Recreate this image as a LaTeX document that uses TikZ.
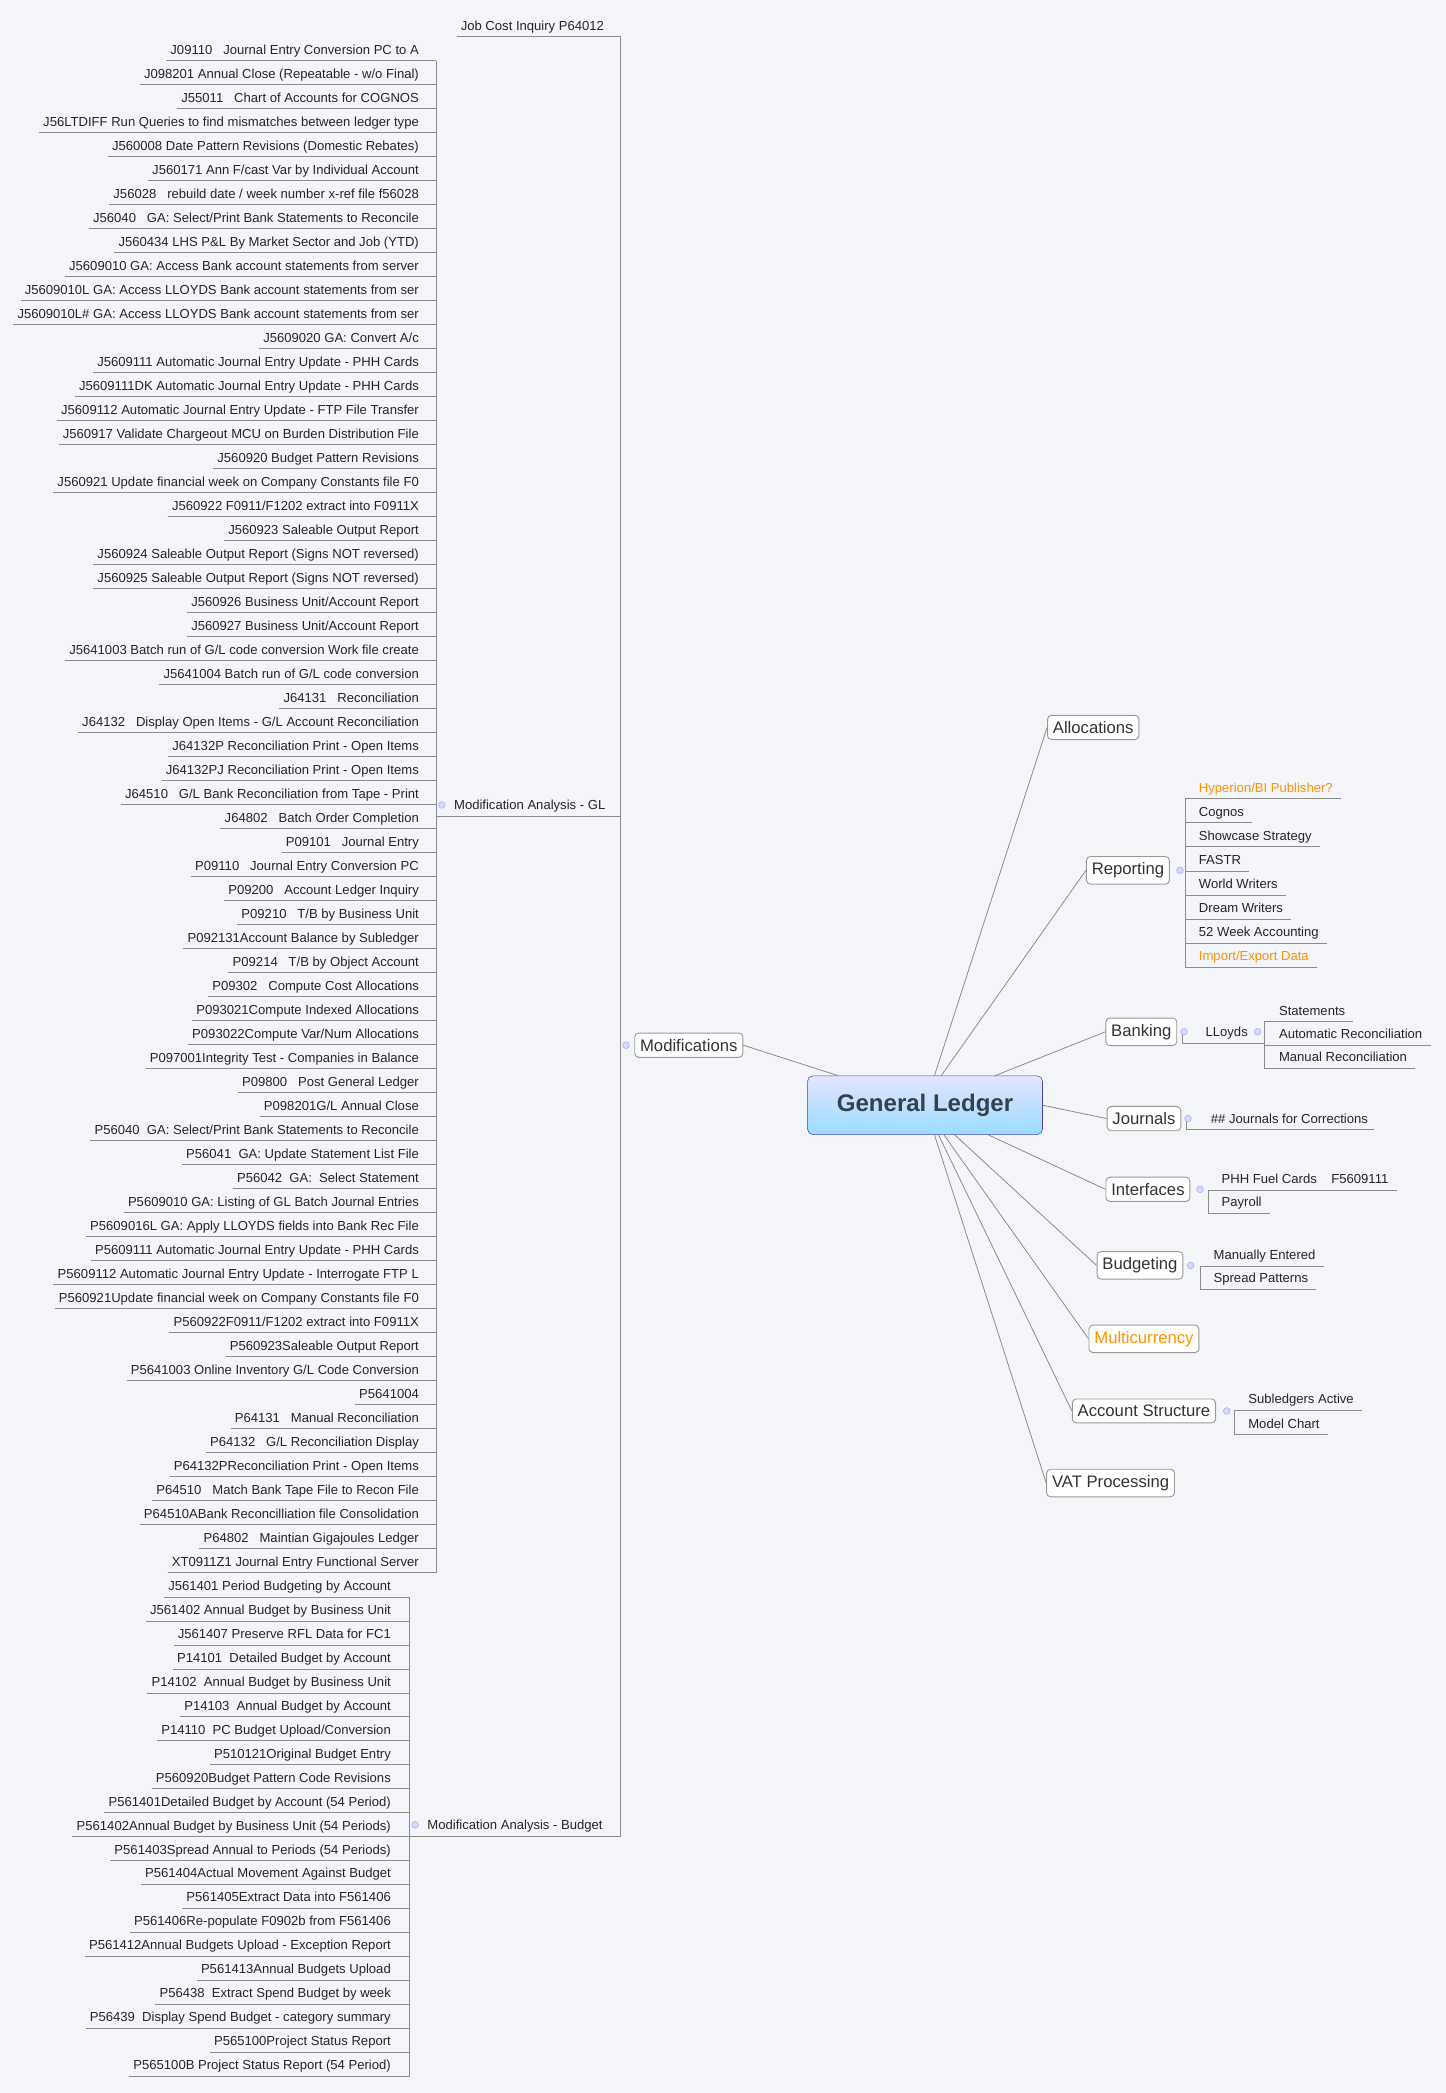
\documentclass[tikz,border=0pt]{standalone}
\usepackage{fontspec}
\setmainfont{Liberation Sans}
\begin{document}
\begin{tikzpicture}[x=1pt,y=1pt,
  ln/.style={draw=black!45,line width=0.7pt},
  cn/.style={draw=black!45,line width=0.6pt},
  lf/.style={inner sep=0pt,font=\fontsize{9.8}{11}\selectfont,text=black!85},
  topic/.style={draw=black!40,rounded corners=3pt,fill=white,line width=0.7pt,font=\fontsize{12.5}{14}\selectfont,text=black!80,inner xsep=4pt,inner ysep=4.5pt},
  dot/.style={circle,draw=blue!35,fill=blue!15,inner sep=0pt,minimum size=5pt},
  org/.style={text=orange!85!yellow}]
\fill[color={rgb,255:red,243;green,245;blue,249}] (0,0) rectangle (1083,-1568);
\useasboundingbox (0,0) rectangle (1083,-1568);
% ---- GL list
\coordinate (vgl) at (327,0);
\foreach \t [count=\i] in {
{J09110\ \ \ Journal Entry Conversion PC to A},
{J098201 Annual Close (Repeatable - w/o Final)},
{J55011\ \ \ Chart of Accounts for COGNOS},
{J56LTDIFF Run Queries to find mismatches between ledger type},
{J560008 Date Pattern Revisions (Domestic Rebates)},
{J560171 Ann F/cast Var by Individual Account},
{J56028\ \ \ rebuild date / week number x-ref file f56028},
{J56040\ \ \ GA: Select/Print Bank Statements to Reconcile},
{J560434 LHS P\&L By Market Sector and Job (YTD)},
{J5609010 GA: Access Bank account statements from server},
{J5609010L GA: Access LLOYDS Bank account statements from ser},
{J5609010L\# GA: Access LLOYDS Bank account statements from ser},
{J5609020 GA: Convert A/c},
{J5609111 Automatic Journal Entry Update - PHH Cards},
{J5609111DK Automatic Journal Entry Update - PHH Cards},
{J5609112 Automatic Journal Entry Update - FTP File Transfer},
{J560917 Validate Chargeout MCU on Burden Distribution File},
{J560920 Budget Pattern Revisions},
{J560921 Update financial week on Company Constants file F0},
{J560922 F0911/F1202 extract into F0911X},
{J560923 Saleable Output Report},
{J560924 Saleable Output Report (Signs NOT reversed)},
{J560925 Saleable Output Report (Signs NOT reversed)},
{J560926 Business Unit/Account Report},
{J560927 Business Unit/Account Report},
{J5641003 Batch run of G/L code conversion Work file create},
{J5641004 Batch run of G/L code conversion},
{J64131\ \ \ Reconciliation},
{J64132\ \ \ Display Open Items - G/L Account Reconciliation},
{J64132P Reconciliation Print - Open Items},
{J64132PJ Reconciliation Print - Open Items},
{J64510\ \ \ G/L Bank Reconciliation from Tape - Print},
{J64802\ \ \ Batch Order Completion},
{P09101\ \ \ Journal Entry},
{P09110\ \ \ Journal Entry Conversion PC},
{P09200\ \ \ Account Ledger Inquiry},
{P09210\ \ \ T/B by Business Unit},
{P092131Account Balance by Subledger},
{P09214\ \ \ T/B by Object Account},
{P09302\ \ \ Compute Cost Allocations},
{P093021Compute Indexed Allocations},
{P093022Compute Var/Num Allocations},
{P097001Integrity Test - Companies in Balance},
{P09800\ \ \ Post General Ledger},
{P098201G/L Annual Close},
{P56040\ \ GA: Select/Print Bank Statements to Reconcile},
{P56041\ \ GA: Update Statement List File},
{P56042\ \ GA:\ \ Select Statement},
{P5609010 GA: Listing of GL Batch Journal Entries},
{P5609016L GA: Apply LLOYDS fields into Bank Rec File},
{P5609111 Automatic Journal Entry Update - PHH Cards},
{P5609112 Automatic Journal Entry Update - Interrogate FTP L},
{P560921Update financial week on Company Constants file F0},
{P560922F0911/F1202 extract into F0911X},
{P560923Saleable Output Report},
{P5641003 Online Inventory G/L Code Conversion},
{P5641004},
{P64131\ \ \ Manual Reconciliation},
{P64132\ \ \ G/L Reconciliation Display},
{P64132PReconciliation Print - Open Items},
{P64510\ \ \ Match Bank Tape File to Recon File},
{P64510ABank Reconcilliation file Consolidation},
{P64802\ \ \ Maintian Gigajoules Ledger},
{XT0911Z1 Journal Entry Functional Server}}{
  \pgfmathsetmacro\yy{37+17.98*(\i-1)}
  \node[lf,anchor=base east] (g\i) at (314,-\yy-3.5) {\t};
  \coordinate (ug\i) at (0,-\yy-8.5);
  \draw[ln] ([xshift=-3pt]g\i.west |- ug\i) -- (vgl |- ug\i);
}
\draw[ln] (vgl |- ug1) -- (vgl |- ug64);
% ---- Budget list
\coordinate (vbu) at (307,0);
\foreach \t [count=\i] in {
{J561401 Period Budgeting by Account},
{J561402 Annual Budget by Business Unit},
{J561407 Preserve RFL Data for FC1},
{P14101\ \ Detailed Budget by Account},
{P14102\ \ Annual Budget by Business Unit},
{P14103\ \ Annual Budget by Account},
{P14110\ \ PC Budget Upload/Conversion},
{P510121Original Budget Entry},
{P560920Budget Pattern Code Revisions},
{P561401Detailed Budget by Account (54 Period)},
{P561402Annual Budget by Business Unit (54 Periods)},
{P561403Spread Annual to Periods (54 Periods)},
{P561404Actual Movement Against Budget},
{P561405Extract Data into F561406},
{P561406Re-populate F0902b from F561406},
{P561412Annual Budgets Upload - Exception Report},
{P561413Annual Budgets Upload},
{P56438\ \ Extract Spend Budget by week},
{P56439\ \ Display Spend Budget - category summary},
{P565100Project Status Report},
{P565100B Project Status Report (54 Period)}}{
  \pgfmathsetmacro\yy{1188+17.95*(\i-1)}
  \node[lf,anchor=base east] (b\i) at (293,-\yy-3.5) {\t};
  \coordinate (ub\i) at (0,-\yy-8.5);
  \draw[ln] ([xshift=-3pt]b\i.west |- ub\i) -- (vbu |- ub\i);
}
\draw[ln] (vbu |- ub1) -- (vbu |- ub21);
% ---- second level
\coordinate (vm) at (465,0);
\node[lf,anchor=base west] (jc) at (345,-19-3.5) {Job Cost Inquiry P64012};
\node[lf,anchor=base west] (mgl) at (340,-603-3.5) {Modification Analysis - GL};
\node[lf,anchor=base west] (mbu) at (320,-1367-3.5) {Modification Analysis - Budget};
\coordinate (ujc) at (0,-27.5);
\coordinate (umg) at (0,-612);
\coordinate (umb) at (0,-1376);
\draw[ln] (342,-27.5) -- (vm |- ujc);
\draw[ln] (vgl |- umg) -- (vm |- umg);
\draw[ln] (vbu |- umb) -- (vm |- umb);
\draw[ln] (vm |- ujc) -- (vm |- umb);
\node[dot] at (331,-603) {};
\node[dot] at (311,-1367) {};
% ---- main
\node[draw=blue!45!gray,rounded corners=4pt,top color=blue!10,bottom color=blue!35!cyan!40,minimum width=176pt,minimum height=44pt,font=\bfseries\fontsize{18}{21}\selectfont,text={rgb,255:red,55;green,65;blue,75}] (gl) at (693,-828) {General Ledger};
\node[topic] (mod) at (516,-783) {Modifications};
\node[dot] at (469,-783) {};
\draw[cn] (gl.north west)++(23,0) coordinate (gm) -- (mod.east);
\node[topic] (al) at (819,-545) {Allocations};
\node[topic] (rp) at (845,-652) {Reporting};
\node[topic] (bk) at (855,-773) {Banking};
\node[topic] (jn) at (857,-838) {Journals};
\node[topic] (if) at (860,-891) {Interfaces};
\node[topic] (bg) at (854,-948) {Budgeting};
\node[topic,org] (mc) at (857,-1003) {Multicurrency};
\node[topic] (as) at (857,-1057) {Account Structure};
\node[topic] (vt) at (832,-1111) {VAT Processing};
\coordinate (t1) at (700,-806); \coordinate (t2) at (705,-806); \coordinate (t3) at (745,-806);
\coordinate (b1) at (740,-850); \coordinate (b2) at (715,-850); \coordinate (b3) at (707,-850);
\coordinate (b4) at (703,-850); \coordinate (b5) at (700,-850);
\draw[cn] (t1) -- (al.west); \draw[cn] (t2) -- (rp.west); \draw[cn] (t3) -- (bk.west);
\draw[cn] (gl.east) -- (jn.west); \draw[cn] (b1) -- (if.west); \draw[cn] (b2) -- (bg.west);
\draw[cn] (b3) -- (mc.west); \draw[cn] (b4) -- (as.west); \draw[cn] (b5) -- (vt.west);
% ---- Reporting
\coordinate (vr) at (888,0);
\foreach \t/\c [count=\i] in {{Hyperion/BI Publisher?}/org,{Cognos}/lf,{Showcase Strategy}/lf,{FASTR}/lf,{World Writers}/lf,{Dream Writers}/lf,{52 Week Accounting}/lf,{Import/Export Data}/org}{
  \pgfmathsetmacro\yy{590+18.0*(\i-1)}
  \node[lf,\c,anchor=base west] (r\i) at (898,-\yy-3.5) {\t};
  \coordinate (ur\i) at (0,-\yy-8.5);
  \draw[ln] (vr |- ur\i) -- ([xshift=6pt]r\i.east |- ur\i);
}
\draw[ln] (vr |- ur1) -- (vr |- ur8);
\node[dot] at (884,-652) {};
% ---- Banking
\node[lf,anchor=base west] (ll) at (903,-773-3.5) {LLoyds};
\draw[ln] (bk.east) ++(4,0) coordinate (bke) |- (947,-782);
\node[dot] at (887,-773) {};
\node[dot] at (942,-773) {};
\coordinate (vb) at (947,0);
\foreach \t [count=\i] in {Statements,Automatic Reconciliation,Manual Reconciliation}{
  \pgfmathsetmacro\yy{757+17.5*(\i-1)}
  \node[lf,anchor=base west] (k\i) at (958,-\yy-3.5) {\t};
  \coordinate (uk\i) at (0,-\yy-8.5);
  \draw[ln] (vb |- uk\i) -- ([xshift=6pt]k\i.east |- uk\i);
}
\draw[ln] (vb |- uk1) -- (vb |- uk3);
% ---- Journals
\node[lf,anchor=base west] (j1) at (907,-838-3.5) {\#\# Journals for Corrections};
\draw[ln] (jn.east) ++(4,0) |- ([xshift=4pt]j1.east |- 0,-846.5);
\node[dot] at (890,-838) {};
% ---- Interfaces
\coordinate (vi) at (905,0);
\foreach \t [count=\i] in {{PHH Fuel Cards\ \ \ \ F5609111},Payroll}{
  \pgfmathsetmacro\yy{883+17.5*(\i-1)}
  \node[lf,anchor=base west] (i\i) at (915,-\yy-3.5) {\t};
  \coordinate (ui\i) at (0,-\yy-8.5);
  \draw[ln] (vi |- ui\i) -- ([xshift=6pt]i\i.east |- ui\i);
}
\draw[ln] (vi |- ui1) -- (vi |- ui2);
\node[dot] at (899,-891) {};
% ---- Budgeting
\coordinate (vg) at (899,0);
\foreach \t [count=\i] in {Manually Entered,Spread Patterns}{
  \pgfmathsetmacro\yy{940+17.5*(\i-1)}
  \node[lf,anchor=base west] (d\i) at (909,-\yy-3.5) {\t};
  \coordinate (ud\i) at (0,-\yy-8.5);
  \draw[ln] (vg |- ud\i) -- ([xshift=6pt]d\i.east |- ud\i);
}
\draw[ln] (vg |- ud1) -- (vg |- ud2);
\node[dot] at (892,-948) {};
% ---- Account Structure
\coordinate (va) at (925,0);
\foreach \t [count=\i] in {Subledgers Active,Model Chart}{
  \pgfmathsetmacro\yy{1048+18.5*(\i-1)}
  \node[lf,anchor=base west] (a\i) at (935,-\yy-3.5) {\t};
  \coordinate (ua\i) at (0,-\yy-8.5);
  \draw[ln] (va |- ua\i) -- ([xshift=6pt]a\i.east |- ua\i);
}
\draw[ln] (va |- ua1) -- (va |- ua2);
\node[dot] at (919,-1057) {};
\end{tikzpicture}
\end{document}
